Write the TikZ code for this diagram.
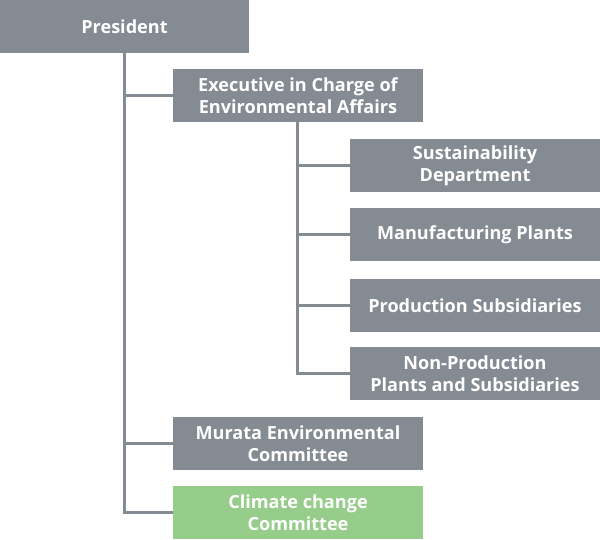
\documentclass[tikz,border=0pt]{standalone}
\usepackage{fontspec}
\setmainfont{Open Sans}
\definecolor{unitgray}{HTML}{858B93}
\definecolor{unitgreen}{HTML}{96CD8A}
\tikzset{
  unit/.style={fill=unitgray, text=white, align=center, inner sep=0pt,
    minimum width=5cm, minimum height=1.06cm,
    font=\bfseries\fontsize{10.3}{12.6}\selectfont},
  climate/.style={unit, fill=unitgreen},
  link/.style={draw=unitgray, line width=0.06cm}
}
\begin{document}
\begin{tikzpicture}[x=0.02cm, y=-0.02cm]
      \useasboundingbox (0, 0) rectangle (600, 540);
      \node[unit, minimum width=4.98cm] (pres) at (124.5, 26.5){President};
      \node[unit] (exec) at (298, 95.5){Executive in Charge of\\Environmental Affairs};
      \node[unit] (sust) at (475, 165.5){Sustainability\\Department};
      \node[unit] (manuf) at (475, 235){Manufacturing Plants};
      \node[unit] (prod) at (475, 305.5){Production Subsidiaries};
      \node[unit] (nonprod) at (475, 374){Non-Production\\Plants and Subsidiaries};
      \node[unit] (murata) at (298, 444){Murata Environmental\\Committee};
      \node[climate] (clim) at (298, 513){Climate change\\Committee};

      \draw[link](pres.south) |- (exec.west);
      \draw[link](pres.south) |- (murata.west);
      \draw[link](pres.south) |- (clim.west);
        \draw[link](exec.south) |- (sust.west);
        \draw[link](exec.south) |- (manuf.west);
        \draw[link](exec.south) |- (prod.west);
        \draw[link](exec.south) |- (nonprod.west);
    \end{tikzpicture}
\end{document}
